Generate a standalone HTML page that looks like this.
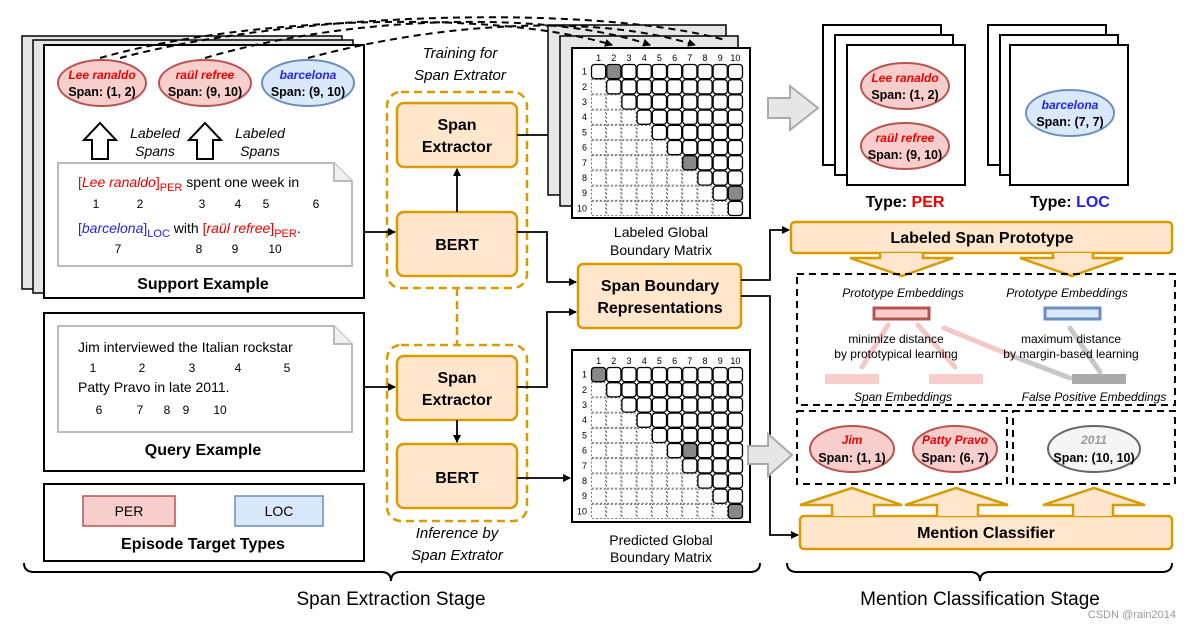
<!DOCTYPE html>
<html><head><meta charset="utf-8"><style>
body{margin:0;background:#fff}
svg{display:block;font-family:"Liberation Sans",Arial,sans-serif}
</style></head><body>
<svg id="s" width="1191" height="628" viewBox="0 0 1191 628" xmlns="http://www.w3.org/2000/svg">
<defs>
<marker id="a" markerWidth="8" markerHeight="8" refX="7" refY="4" orient="auto" markerUnits="userSpaceOnUse"><path d="M0,0 L8,4 L0,8 z" fill="#000"/></marker>
</defs>
<rect x="22" y="36" width="320" height="253" fill="#e6e6e6" stroke="#000" stroke-width="1.5"/>
<rect x="33" y="40" width="320" height="253" fill="#e6e6e6" stroke="#000" stroke-width="1.5"/>
<rect x="44" y="45" width="320" height="253" fill="#fff" stroke="#000" stroke-width="2"/>
<g font-size="12.5" text-anchor="middle">
<ellipse cx="102" cy="83" rx="44" ry="23" fill="#f8cecc" stroke="#b85450" stroke-width="2"/>
<text x="102" y="79" fill="#e00" font-weight="bold" font-style="italic" font-size="12">Lee ranaldo</text>
<text x="102" y="96" font-weight="bold">Span: (1, 2)</text>
<ellipse cx="205" cy="83" rx="46" ry="23" fill="#f8cecc" stroke="#b85450" stroke-width="2"/>
<text x="205" y="79" fill="#e00" font-weight="bold" font-style="italic" font-size="12">raül refree</text>
<text x="205" y="96" font-weight="bold">Span: (9, 10)</text>
<ellipse cx="308" cy="83" rx="46" ry="23" fill="#dae8fc" stroke="#6c8ebf" stroke-width="2"/>
<text x="308" y="79" fill="#22e" font-weight="bold" font-style="italic" font-size="12">barcelona</text>
<text x="308" y="96" font-weight="bold">Span: (9, 10)</text>
</g>
<g fill="#fff" stroke="#000" stroke-width="2">
<path d="M100,123 L116,140 L108,140 L108,159 L92,159 L92,140 L84,140 Z"/>
<path d="M205,123 L221,140 L213,140 L213,159 L197,159 L197,140 L189,140 Z"/>
</g>
<g font-size="14" font-style="italic" text-anchor="middle">
<text x="155" y="138">Labeled</text><text x="155" y="156">Spans</text>
<text x="260" y="138">Labeled</text><text x="260" y="156">Spans</text>
</g>
<path d="M58,163 L334,163 L352,181 L352,266 L58,266 Z" fill="#fff" stroke="#bbb" stroke-width="2"/>
<path d="M334,163 L334,181 L352,181" fill="#f0f0f0" stroke="#bbb" stroke-width="2"/>
<g font-size="14">
<text x="78" y="187"><tspan fill="#e00">[</tspan><tspan fill="#e00" font-style="italic">Lee ranaldo</tspan><tspan fill="#e00">]</tspan><tspan fill="#e00" font-size="11" dy="4">PER</tspan><tspan dy="-4"> spent one week in</tspan></text>
<text x="78" y="233"><tspan fill="#22e">[</tspan><tspan fill="#22e" font-style="italic">barcelona</tspan><tspan fill="#22e">]</tspan><tspan fill="#22e" font-size="11" dy="4">LOC</tspan><tspan dy="-4"> with </tspan><tspan fill="#e00">[</tspan><tspan fill="#e00" font-style="italic">raül refree</tspan><tspan fill="#e00">]</tspan><tspan fill="#e00" font-size="11" dy="4">PER</tspan><tspan dy="-4">.</tspan></text>
</g>
<g font-size="12" text-anchor="middle">
<text x="96" y="208">1</text><text x="140" y="208">2</text><text x="202" y="208">3</text><text x="238" y="208">4</text><text x="266" y="208">5</text><text x="316" y="208">6</text>
<text x="118" y="253">7</text><text x="199" y="253">8</text><text x="235" y="253">9</text><text x="275" y="253">10</text>
</g>
<text x="203" y="289" font-size="16" font-weight="bold" text-anchor="middle">Support Example</text>
<rect x="44" y="313" width="320" height="158" fill="#fff" stroke="#000" stroke-width="2"/>
<path d="M58,326 L334,326 L352,344 L352,432 L58,432 Z" fill="#fff" stroke="#bbb" stroke-width="2"/>
<path d="M334,326 L334,344 L352,344" fill="#f0f0f0" stroke="#bbb" stroke-width="2"/>
<text x="78" y="352" font-size="14">Jim interviewed the Italian rockstar</text>
<text x="78" y="392" font-size="14">Patty Pravo in late 2011.</text>
<g font-size="12" text-anchor="middle">
<text x="93" y="372">1</text><text x="142" y="372">2</text><text x="192" y="372">3</text><text x="238" y="372">4</text><text x="287" y="372">5</text>
<text x="99" y="414">6</text><text x="140" y="414">7</text><text x="167" y="414">8</text><text x="186" y="414">9</text><text x="220" y="414">10</text>
</g>
<text x="203" y="455" font-size="16" font-weight="bold" text-anchor="middle">Query Example</text>
<rect x="44" y="484" width="320" height="77" fill="#fff" stroke="#000" stroke-width="2"/>
<rect x="83" y="496" width="92" height="30" fill="#f8cecc" stroke="#b85450" stroke-width="1.5"/>
<text x="129" y="516" font-size="14" text-anchor="middle">PER</text>
<rect x="235" y="496" width="88" height="30" fill="#dae8fc" stroke="#6c8ebf" stroke-width="1.5"/>
<text x="279" y="516" font-size="14" text-anchor="middle">LOC</text>
<text x="203" y="549" font-size="16" font-weight="bold" text-anchor="middle">Episode Target Types</text>
<g fill="none" stroke="#d79b00" stroke-width="2.5" stroke-dasharray="8,5">
<rect x="387" y="92" width="140" height="196" rx="14"/>
<rect x="387" y="345" width="140" height="176" rx="14"/>
<line x1="457" y1="288" x2="457" y2="345"/>
</g>
<g font-size="15" font-style="italic" text-anchor="middle">
<text x="460" y="58">Training for</text><text x="460" y="80">Span Extrator</text>
<text x="457" y="538">Inference by</text><text x="457" y="560">Span Extrator</text>
</g>
<g fill="#ffe6cc" stroke="#d79b00" stroke-width="2.5">
<rect x="397" y="103" width="120" height="64" rx="7"/>
<rect x="397" y="212" width="120" height="64" rx="7"/>
<rect x="397" y="356" width="120" height="64" rx="7"/>
<rect x="397" y="444" width="120" height="64" rx="7"/>
<rect x="578" y="264" width="163" height="64" rx="5"/>
<rect x="791" y="222" width="381" height="31" rx="4"/>
<rect x="800" y="516" width="372" height="33" rx="4"/>
</g>
<g font-size="16" font-weight="bold" text-anchor="middle">
<text x="457" y="130">Span</text><text x="457" y="152">Extractor</text>
<text x="457" y="250">BERT</text>
<text x="457" y="383">Span</text><text x="457" y="405">Extractor</text>
<text x="457" y="483">BERT</text>
<text x="660" y="291">Span Boundary</text><text x="660" y="313">Representations</text>
<text x="982" y="243">Labeled Span Prototype</text>
<text x="986" y="538">Mention Classifier</text>
</g>
<g fill="none" stroke="#000" stroke-width="1.8" marker-end="url(#a)">
<path d="M364,232 H395"/>
<path d="M364,387 H395"/>
<path d="M457,212 V169"/>
<path d="M457,420 V442"/>
<path d="M517,135 H570"/>
<path d="M517,478 H570"/>
<path d="M517,232 H547 V282 H576"/>
<path d="M517,387 H547 V312 H576"/>
<path d="M741,280 H770 V230 H789"/>
<path d="M741,296 H770 V535 H798"/>
</g>
<rect x="548" y="25" width="178" height="170" fill="#e6e6e6" stroke="#000" stroke-width="1.5"/>
<rect x="560" y="36" width="178" height="170" fill="#e6e6e6" stroke="#000" stroke-width="1.5"/>
<rect x="572" y="48" width="178" height="170" fill="#fff" stroke="#000" stroke-width="2"/>
<g id="m1"></g>
<rect x="572" y="350" width="178" height="172" fill="#fff" stroke="#000" stroke-width="2"/>
<g id="m2"></g>
<g font-size="14" text-anchor="middle">
<text x="661" y="237">Labeled Global</text><text x="661" y="255">Boundary Matrix</text>
<text x="661" y="545">Predicted Global</text><text x="661" y="562">Boundary Matrix</text>
</g>
<g fill="none" stroke="#000" stroke-width="2" stroke-dasharray="7,5">
<path d="M100,58 C250,15 500,10 612,45" marker-end="url(#a)"/>
<path d="M205,58 C350,15 550,10 650,45" marker-end="url(#a)"/>
<path d="M308,58 C450,20 600,15 695,45" marker-end="url(#a)"/>
<path d="M120,58 C300,10 600,5 725,40"/>
</g>
<path d="M768,98 L790,98 L790,86 L818,108 L790,130 L790,118 L768,118 Z" fill="#e6e6e6" stroke="#aaa" stroke-width="2"/>
<path d="M748,446 L768,446 L768,434 L792,455 L768,476 L768,464 L748,464 Z" fill="#e6e6e6" stroke="#aaa" stroke-width="2"/>
<rect x="823" y="25" width="118" height="140" fill="#fff" stroke="#000" stroke-width="2"/>
<rect x="835" y="35" width="118" height="140" fill="#fff" stroke="#000" stroke-width="2"/>
<rect x="847" y="45" width="118" height="140" fill="#fff" stroke="#000" stroke-width="2"/>
<rect x="988" y="25" width="118" height="140" fill="#fff" stroke="#000" stroke-width="2"/>
<rect x="1000" y="35" width="118" height="140" fill="#fff" stroke="#000" stroke-width="2"/>
<rect x="1010" y="45" width="118" height="140" fill="#fff" stroke="#000" stroke-width="2"/>
<g font-size="12.5" text-anchor="middle">
<ellipse cx="905" cy="86" rx="44" ry="23" fill="#f8cecc" stroke="#b85450" stroke-width="2"/>
<text x="905" y="82" fill="#e00" font-weight="bold" font-style="italic" font-size="12">Lee ranaldo</text>
<text x="905" y="99" font-weight="bold">Span: (1, 2)</text>
<ellipse cx="905" cy="146" rx="44" ry="23" fill="#f8cecc" stroke="#b85450" stroke-width="2"/>
<text x="905" y="142" fill="#e00" font-weight="bold" font-style="italic" font-size="12">raül refree</text>
<text x="905" y="159" font-weight="bold">Span: (9, 10)</text>
<ellipse cx="1070" cy="113" rx="44" ry="23" fill="#dae8fc" stroke="#6c8ebf" stroke-width="2"/>
<text x="1070" y="109" fill="#22e" font-weight="bold" font-style="italic" font-size="12">barcelona</text>
<text x="1070" y="126" font-weight="bold">Span: (7, 7)</text>
</g>
<text x="905" y="207" font-size="16" font-weight="bold" text-anchor="middle">Type: <tspan fill="#e00">PER</tspan></text>
<text x="1070" y="207" font-size="16" font-weight="bold" text-anchor="middle">Type: <tspan fill="#22e">LOC</tspan></text>
<g fill="#ffe6cc" stroke="#d79b00" stroke-width="2.5">
<path d="M880,253 L880,258 L850,258 L902,276 L953,258 L923,258 L923,253"/>
<path d="M1053,253 L1053,258 L1020,258 L1072,276 L1123,258 L1093,258 L1093,253"/>
<path d="M832,516 L832,505 L800,505 L852,488 L902,505 L874,505 L874,516"/>
<path d="M937,516 L937,505 L905,505 L956,488 L1008,505 L978,505 L978,516"/>
<path d="M1073,516 L1073,505 L1043,505 L1094,488 L1145,505 L1113,505 L1113,516"/>
</g>
<g fill="none" stroke="#000" stroke-width="2" stroke-dasharray="7,5">
<rect x="797" y="274" width="378" height="131"/>
<rect x="797" y="411" width="210" height="73"/>
<rect x="1013" y="411" width="162" height="73"/>
</g>
<g font-size="12" font-style="italic" text-anchor="middle">
<text x="903" y="297">Prototype Embeddings</text>
<text x="1067" y="297">Prototype Embeddings</text>
<text x="903" y="401">Span Embeddings</text>
<text x="1094" y="401">False Positive Embeddings</text>
</g>
<rect x="874" y="308" width="55" height="11" fill="#f8cecc" stroke="#b85450" stroke-width="3"/>
<rect x="1045" y="308" width="55" height="11" fill="#dae8fc" stroke="#6c8ebf" stroke-width="3"/>
<rect x="825" y="374" width="54" height="10" fill="#f8cecc"/>
<rect x="929" y="374" width="54" height="10" fill="#f8cecc"/>
<rect x="1072" y="374" width="54" height="10" fill="#aaa"/>
<g stroke-width="5" fill="none" stroke-linecap="round">
<path d="M862,367 L888,325" stroke="#f5c8c8"/>
<path d="M955,367 L918,325" stroke="#f5c8c8"/>
<path d="M944,328 L1015,357" stroke="#f5c8c8"/>
<path d="M1015,357 L1070,378" stroke="#c8c8c8"/>
<path d="M1100,372 L1070,328" stroke="#c8c8c8"/>
</g>
<g font-size="12" text-anchor="middle">
<text x="896" y="343">minimize distance</text><text x="896" y="358">by prototypical learning</text>
<text x="1071" y="343">maximum distance</text><text x="1071" y="358">by margin-based learning</text>
</g>
<g font-size="12.5" text-anchor="middle">
<ellipse cx="852" cy="449" rx="42" ry="23" fill="#f8cecc" stroke="#b85450" stroke-width="2"/>
<text x="852" y="444" fill="#e00" font-weight="bold" font-style="italic" font-size="12">Jim</text>
<text x="852" y="462" font-weight="bold">Span: (1, 1)</text>
<ellipse cx="955" cy="449" rx="42" ry="23" fill="#f8cecc" stroke="#b85450" stroke-width="2"/>
<text x="955" y="444" fill="#e00" font-weight="bold" font-style="italic" font-size="12">Patty Pravo</text>
<text x="955" y="462" font-weight="bold">Span: (6, 7)</text>
<ellipse cx="1094" cy="449" rx="46" ry="23" fill="#f5f5f5" stroke="#666" stroke-width="2"/>
<text x="1094" y="444" fill="#999" font-weight="bold" font-style="italic" font-size="12">2011</text>
<text x="1094" y="462" font-weight="bold">Span: (10, 10)</text>
</g>
<g fill="none" stroke="#000" stroke-width="2">
<path d="M24,563 Q24,572 34,572 H381 Q391,572 391,581 Q391,572 401,572 H750 Q760,572 760,563"/>
<path d="M787,563 Q787,572 797,572 H970 Q980,572 980,581 Q980,572 990,572 H1162 Q1172,572 1172,563"/>
</g>
<text x="391" y="605" font-size="19" text-anchor="middle">Span Extraction Stage</text>
<text x="980" y="605" font-size="19" text-anchor="middle">Mention Classification Stage</text>
<text x="1176" y="618" font-size="11" fill="#999" text-anchor="end">CSDN @rain2014</text>
</svg>
<script>
function mat(id,x0,y0,grays){
 var g=document.getElementById(id),c=15.2,h="";
 for(var i=0;i<10;i++){
  h+='<text x="'+(x0+i*c+c/2)+'" y="'+(y0-3)+'" font-size="9" text-anchor="middle">'+(i+1)+'</text>';
  h+='<text x="'+(x0-4)+'" y="'+(y0+i*c+c/2+3)+'" font-size="9" text-anchor="end">'+(i+1)+'</text>';
  for(var j=0;j<10;j++){
   var x=x0+j*c,y=y0+i*c;
   if(j>=i){var gr=grays.indexOf((i+1)+","+(j+1))>=0;
    h+='<rect x="'+(x+0.5)+'" y="'+(y+0.5)+'" width="'+(c-1)+'" height="'+(c-1)+'" rx="3" fill="'+(gr?'#888':'#fff')+'" stroke="#000" stroke-width="1.3"/>';}
   else h+='<rect x="'+(x+0.5)+'" y="'+(y+0.5)+'" width="'+(c-1)+'" height="'+(c-1)+'" fill="none" stroke="#555" stroke-width="0.8" stroke-dasharray="2,2"/>';
  }
 }
 g.innerHTML=h;
}
mat("m1",591,64,["1,2","7,7","9,10"]);
mat("m2",591,367,["1,1","6,7","10,10"]);
</script>
</body></html>
